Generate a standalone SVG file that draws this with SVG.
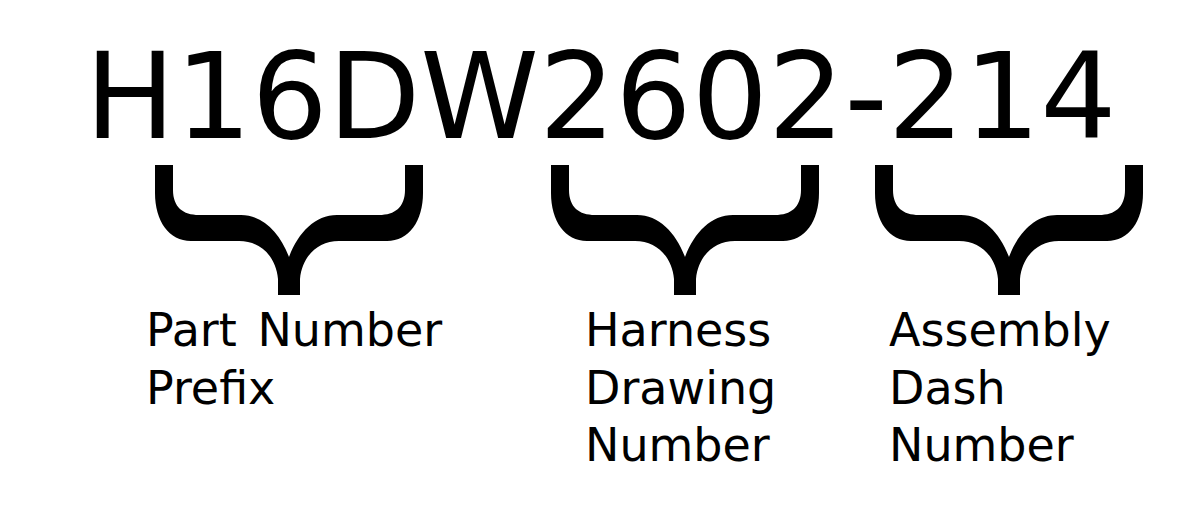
<svg xmlns="http://www.w3.org/2000/svg" width="1200" height="506" viewBox="0 0 1200 506">
<style>
.big{font-family:"DejaVu Sans",Verdana,sans-serif;font-size:120px;fill:#000}
.lbl{font-family:"DejaVu Sans",Verdana,sans-serif;font-size:46px;fill:#000}
.brace{fill:#000;stroke:none}
</style>
<rect width="1200" height="506" fill="#fff"/>
<defs>
<path id="half" d="M0,0 H18 V25 C18,42 28,50 44,50 H86 C108,50 125,68 134,92 L134,130 H123 V114 C121,92 106,76 84,76 H36 C14,76 0,56 0,28 Z"/>
<g id="brace">
<use href="#half" class="brace"/>
<use href="#half" class="brace" transform="translate(268,0) scale(-1,1)"/>
</g>
</defs>
<g id="code"><text class="big" x="85" y="138">H16DW2602-214</text></g>
<g id="connectors">
<use href="#brace" transform="translate(155,165)"/>
<use href="#brace" transform="translate(551,165)"/>
<use href="#brace" transform="translate(875,165)"/>
</g>
<g id="prefix"><text class="lbl" x="146" y="346"><tspan word-spacing="6">Part Number</tspan><tspan x="146" dy="57.5">Prefix</tspan></text></g>
<g id="drawing"><text class="lbl" x="585" y="346">Harness<tspan x="585" dy="57.5">Drawing</tspan><tspan x="585" dy="57.5">Number</tspan></text></g>
<g id="dash"><text class="lbl" x="889" y="346">Assembly<tspan x="889" dy="57.5">Dash</tspan><tspan x="889" dy="57.5">Number</tspan></text></g>
</svg>
